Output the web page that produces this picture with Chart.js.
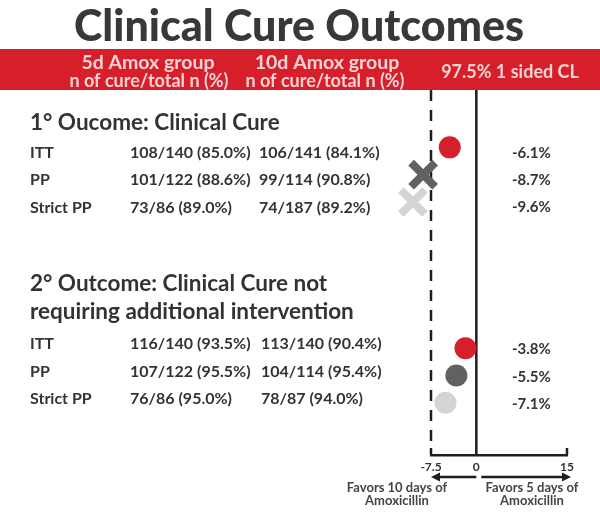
<!DOCTYPE html>
<html>
<head>
<meta charset="utf-8">
<script src="https://cdn.jsdelivr.net/npm/chart.js@4/dist/chart.umd.min.js"></script>
<style>
  html, body { margin: 0; padding: 0; background: #fff; }
</style>
</head>
<body>
<canvas id="chart" width="600" height="514"></canvas>
<script>
// --- Data ---
const chartTitle = "Clinical Cure Outcomes";
const groupHeads = ["5d Amox group", "10d Amox group"];
const groupSub = "n of cure/total n (%)";
const clHead = "97.5% 1 sided CL";
const analyses = ["ITT", "PP", "Strict PP"];
const primaryTitle = ["1° Oucome: Clinical Cure"];
const secondaryTitle = ["2° Outcome: Clinical Cure not", "requiring additional intervention"];
const amox5Primary = ["108/140 (85.0%)", "101/122 (88.6%)", "73/86 (89.0%)"];
const amox10Primary = ["106/141 (84.1%)", "99/114 (90.8%)", "74/187 (89.2%)"];
const amox5Secondary = ["116/140 (93.5%)", "107/122 (95.5%)", "76/86 (95.0%)"];
const amox10Secondary = ["113/140 (90.4%)", "104/114 (95.4%)", "78/87 (94.0%)"];
const clPrimary = [-6.1, -8.7, -9.6];
const clSecondary = [-3.8, -5.5, -7.1];
// where the marks sit on the axis in the picture
const markPrimary = [-4.4, -8.8, -10.5];
const markSecondary = [-1.8, -3.3, -5.1];
const xTicks = [-7.5, 0, 15];
const favors = [["Favors 10 days of", "Amoxicillin"], ["Favors 5 days of", "Amoxicillin"]];

// --- Styles ---
const RED = "#d71f2b";
const DARK = "#616161";
const LIGHT = "#d4d4d4";
const INK = "#333333";
const FONT = "Lato, 'Open Sans', sans-serif";

const secondaryStart = 7; // row index of the 2nd outcome ITT line
const rowsPrimary = analyses.map((a, i) => i);
const rowsSecondary = analyses.map((a, i) => secondaryStart + i);

function arrow(ctx, x1, x2, yy) {
  const dir = Math.sign(x2 - x1);
  ctx.beginPath();
  ctx.moveTo(x1, yy);
  ctx.lineTo(x2 - dir * 6, yy);
  ctx.stroke();
  ctx.beginPath();
  ctx.moveTo(x2, yy);
  ctx.lineTo(x2 - dir * 9, yy - 4.5);
  ctx.lineTo(x2 - dir * 9, yy + 4.5);
  ctx.closePath();
  ctx.fill();
}

const infoPlugin = {
  id: "infoPlugin",
  beforeDraw(chart) {
    const { ctx, chartArea, scales: { y } } = chart;
    ctx.save();
    ctx.fillStyle = "#fff";
    ctx.fillRect(0, 0, chart.width, chart.height);

    // title
    ctx.fillStyle = "#383838";
    ctx.font = "900 43px " + FONT;
    ctx.textAlign = "center";
    ctx.textBaseline = "alphabetic";
    ctx.fillText(chartTitle, 299, 41);

    // red header band
    ctx.fillStyle = RED;
    ctx.fillRect(0, 49, chart.width, chartArea.top - 49);
    ctx.fillStyle = "#f7d4d4";
    ctx.textBaseline = "middle";
    ctx.font = "bold 19.5px " + FONT;
    ctx.fillText(groupHeads[0], 148, 63);
    ctx.fillText(groupHeads[1], 327, 63);
    ctx.font = "bold 18px " + FONT;
    ctx.fillText(groupSub, 149, 81);
    ctx.fillText(groupSub, 325, 81);
    ctx.fillText(clHead, 510, 72);

    // table text
    ctx.textAlign = "left";
    ctx.fillStyle = INK;
    ctx.font = "bold 22.5px " + FONT;
    primaryTitle.forEach((t, i) => ctx.fillText(t, 30, y.getPixelForValue(-1.1 + i)));
    secondaryTitle.forEach((t, i) => ctx.fillText(t, 30, y.getPixelForValue(secondaryStart - 2.2 + i)));
    ctx.font = "bold 16px " + FONT;
    analyses.forEach((a, i) => {
      const y1 = y.getPixelForValue(rowsPrimary[i]);
      const y2 = y.getPixelForValue(rowsSecondary[i]);
      ctx.fillText(a, 30, y1);
      ctx.fillText(amox5Primary[i], 130, y1);
      ctx.fillText(amox10Primary[i], 259, y1);
      ctx.fillText(a, 30, y2);
      ctx.fillText(amox5Secondary[i], 130, y2);
      ctx.fillText(amox10Secondary[i], 261, y2);
    });
    ctx.font = "bold 15px " + FONT;
    analyses.forEach((a, i) => {
      ctx.fillText(clPrimary[i].toFixed(1) + "%", 512, y.getPixelForValue(rowsPrimary[i]));
      ctx.fillText(clSecondary[i].toFixed(1) + "%", 512, y.getPixelForValue(rowsSecondary[i] + 0.2));
    });
    ctx.restore();
  },
  beforeDatasetsDraw(chart) {
    const { ctx, chartArea, scales: { x } } = chart;
    ctx.save();
    ctx.strokeStyle = "#1e1e1e";
    ctx.lineWidth = 2.5;
    // line of no difference
    const x0 = x.getPixelForValue(0);
    ctx.beginPath();
    ctx.moveTo(x0, chartArea.top);
    ctx.lineTo(x0, chartArea.bottom);
    ctx.stroke();
    // non-inferiority margin
    const xm = x.getPixelForValue(xTicks[0]);
    ctx.setLineDash([11, 9]);
    ctx.beginPath();
    ctx.moveTo(xm, chartArea.top);
    ctx.lineTo(xm, chartArea.bottom - 6);
    ctx.stroke();
    ctx.setLineDash([]);
    // little end ticks on the axis
    [xTicks[0], xTicks[xTicks.length - 1]].forEach(v => {
      const px = x.getPixelForValue(v);
      ctx.beginPath();
      ctx.moveTo(px, chartArea.bottom - 7);
      ctx.lineTo(px, chartArea.bottom);
      ctx.stroke();
    });
    ctx.restore();
  },
  afterDraw(chart) {
    const { ctx, chartArea, scales: { x } } = chart;
    ctx.save();
    ctx.strokeStyle = "#1e1e1e";
    ctx.fillStyle = "#1e1e1e";
    ctx.lineWidth = 2.5;
    const ay = chartArea.bottom + 22;
    arrow(ctx, x.getPixelForValue(0), x.getPixelForValue(xTicks[0]), ay);
    arrow(ctx, x.getPixelForValue(0) + 5, x.getPixelForValue(xTicks[2]) + 4, ay);

    ctx.fillStyle = "#444";
    ctx.font = "bold 13px " + FONT;
    ctx.textAlign = "center";
    ctx.textBaseline = "middle";
    [397, 532].forEach((cx, k) => {
      ctx.fillText(favors[k][0], cx, ay + 11);
      ctx.fillText(favors[k][1], cx, ay + 24);
    });
    ctx.restore();
  }
};

new Chart(document.getElementById("chart"), {
  type: "scatter",
  data: {
    datasets: [
      {
        label: "Primary",
        data: markPrimary.map((v, i) => ({ x: v, y: rowsPrimary[i] - 0.2 })),
        pointStyle: ["circle", "crossRot", "crossRot"],
        pointRadius: [11, 17, 17],
        backgroundColor: [RED, DARK, LIGHT],
        borderColor: [RED, DARK, LIGHT],
        borderWidth: [0, 8, 8],
        clip: false
      },
      {
        label: "Secondary",
        data: markSecondary.map((v, i) => ({ x: v, y: rowsSecondary[i] + 0.15 })),
        pointStyle: "circle",
        pointRadius: 11,
        backgroundColor: [RED, DARK, LIGHT],
        borderWidth: 0,
        clip: false
      }
    ]
  },
  options: {
    responsive: false,
    animation: false,
    layout: { autoPadding: false, padding: { left: 431, right: 33, top: 90, bottom: 39 } },
    plugins: { legend: { display: false }, tooltip: { enabled: false } },
    scales: {
      x: {
        type: "linear",
        min: -7.5,
        max: 15,
        afterBuildTicks: s => { s.ticks = xTicks.map(v => ({ value: v })); },
        afterFit: s => { s.height = 20; },
        grid: { drawOnChartArea: false, drawTicks: false },
        border: { display: true, color: "#1e1e1e", width: 2.5 },
        ticks: { padding: 5, color: INK, font: { family: FONT, size: 12, weight: "bold" }, callback: v => v }
      },
      y: { type: "linear", reverse: true, min: -2.3, max: 11.06, display: false }
    }
  },
  plugins: [infoPlugin]
});
</script>
</body>
</html>
